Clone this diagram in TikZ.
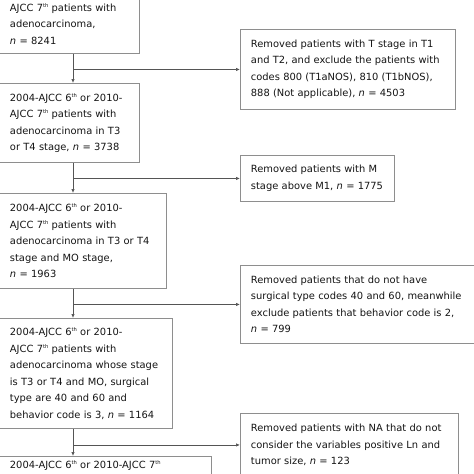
\documentclass[tikz,border=0pt]{standalone}
\usepackage{fontspec}
\setmainfont{DejaVu Sans}
\usetikzlibrary{arrows.meta}
\definecolor{boxline}{HTML}{8E8E8E}
\definecolor{connline}{HTML}{555555}
\definecolor{txt}{HTML}{141414}
\tikzset{
  box/.style={draw=boxline, line width=0.9pt, rectangle, anchor=north west,
    inner xsep=10pt, inner ysep=0pt, align=left, text=txt,
    font=\fontsize{9.9}{16.5}\selectfont},
  conn/.style={draw=connline, line width=0.7pt, -{Latex[length=4pt,width=3.4pt]}},
}
\newcommand{\thsup}{\raisebox{0.75ex}{\fontsize{5.2}{5.2}\selectfont th}}
\newcommand{\lin}[1]{\mbox{#1}}
\begin{document}
\begin{tikzpicture}[x=1pt,y=-1pt]
\clip (0,0) rectangle (474,474);
\useasboundingbox (0,0) rectangle (474,474);
% left column
\node[box, minimum width=140pt, minimum height=59pt, text width=119pt] (b1) at (-1,-6)
  {\lin{AJCC 7\thsup{} patients with}\\\lin{adenocarcinoma,}\\\lin{\textit{n} = 8241}};
\node[box, minimum width=140pt, minimum height=79pt, text width=119pt] (b2) at (-1,83)
  {\lin{2004-AJCC 6\thsup{} or 2010-}\\\lin{AJCC 7\thsup{} patients with}\\\lin{adenocarcinoma in T3}\\\lin{or T4 stage, \textit{n} = 3738}};
\node[box, minimum width=167pt, minimum height=95pt, text width=146pt] (b3) at (-1,193)
  {\lin{2004-AJCC 6\thsup{} or 2010-}\\\lin{AJCC 7\thsup{} patients with}\\\lin{adenocarcinoma in T3 or T4}\\\lin{stage and MO stage,}\\\lin{\textit{n} = 1963}};
\node[box, minimum width=173pt, minimum height=110pt, text width=152pt] (b4) at (-1,318)
  {\lin{2004-AJCC 6\thsup{} or 2010-}\\\lin{AJCC 7\thsup{} patients with}\\\lin{adenocarcinoma whose stage}\\\lin{is T3 or T4 and MO, surgical}\\\lin{type are 40 and 60 and}\\\lin{behavior code is 3, \textit{n} = 1164}};
\node[box, minimum width=212pt, inner ysep=4.5pt, text width=191pt, anchor=north west] (b5) at (-1,456)
  {\lin{2004-AJCC 6\thsup{} or 2010-AJCC 7\thsup{}}\\[12pt]};
% right column
\node[box, minimum width=215pt, minimum height=80pt, text width=194pt] (r1) at (240,29)
  {\lin{Removed patients with T stage in T1}\\\lin{and T2, and exclude the patients with}\\\lin{codes 800 (T1aNOS), 810 (T1bNOS),}\\\lin{888 (Not applicable), \textit{n} = 4503}};
\node[box, minimum width=154pt, minimum height=46pt, text width=133pt] (r2) at (240,155)
  {\lin{Removed patients with M}\\\lin{stage above M1, \textit{n} = 1775}};
\node[box, minimum width=242pt, minimum height=78pt, text width=221pt] (r3) at (240,265)
  {\lin{Removed patients that do not have}\\\lin{surgical type codes 40 and 60, meanwhile}\\\lin{exclude patients that behavior code is 2,}\\\lin{\textit{n} = 799}};
\node[box, minimum width=218pt, minimum height=63pt, text width=197pt] (r4) at (240,413)
  {\lin{Removed patients with NA that do not}\\\lin{consider the variables positive Ln and}\\\lin{tumor size, \textit{n} = 123}};
% trunk
\coordinate (t) at (73,0);
\coordinate (j1) at (t |- r1.west);
\coordinate (j2) at (t |- r2.west);
\coordinate (j3) at (t |- r3.west);
\coordinate (j4) at (t |- r4.west);
\draw[conn] (b1.south -| t) -- (b2.north -| t);
\draw[conn] (b2.south -| t) -- (b3.north -| t);
\draw[conn] (b3.south -| t) -- (b4.north -| t);
\draw[conn] (b4.south -| t) -- (b5.north -| t);
\draw[conn] (j1) -- (r1.west);
\draw[conn] (j2) -- (r2.west);
\draw[conn] (j3) -- (r3.west);
\draw[conn] (j4) -- (r4.west);
\end{tikzpicture}
\end{document}
